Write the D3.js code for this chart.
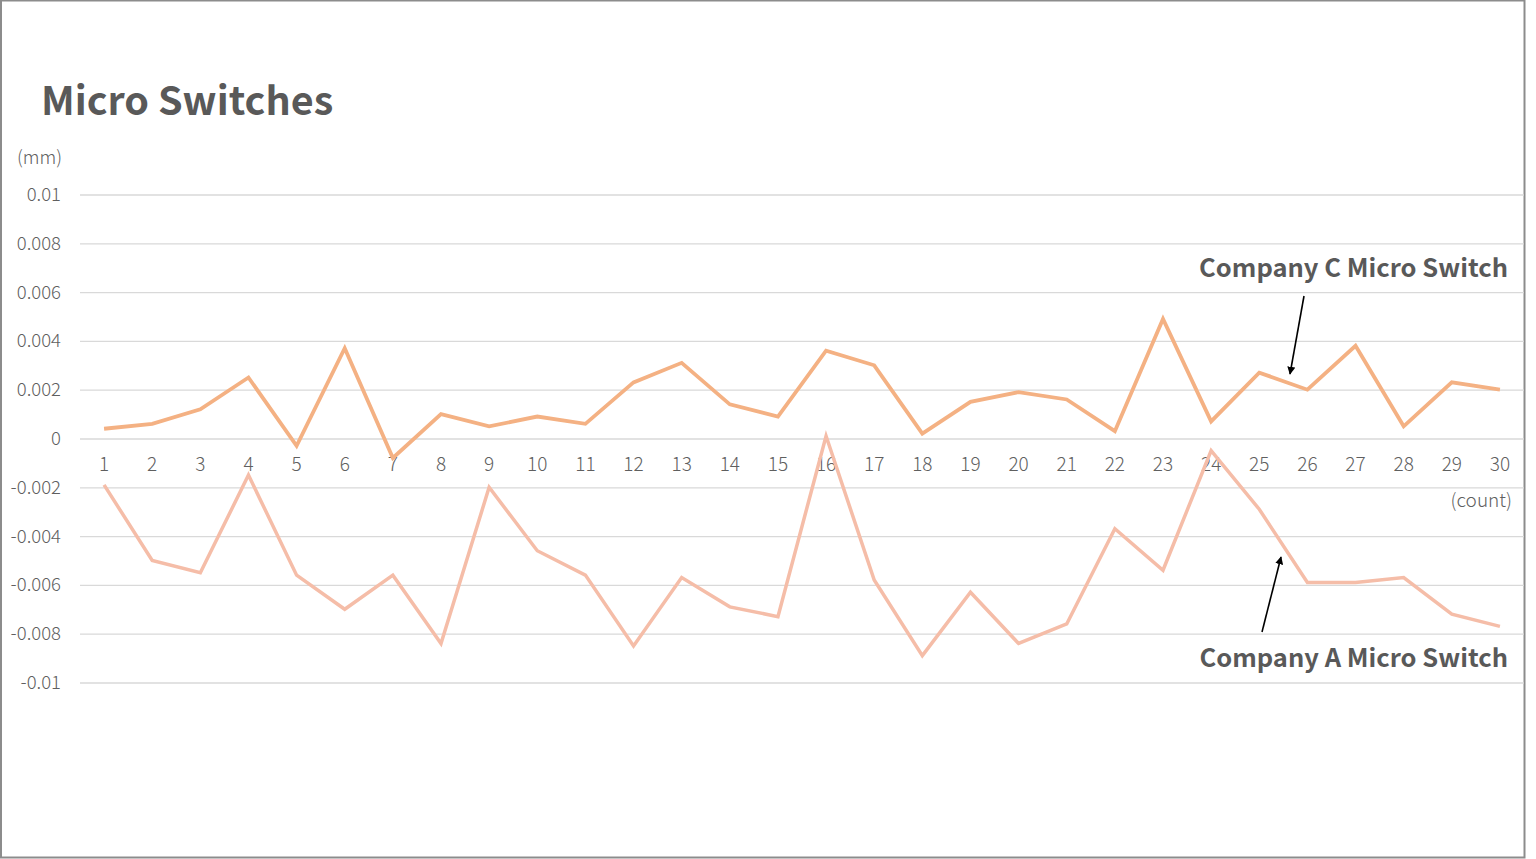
<!DOCTYPE html>
<html>
<head>
<meta charset="utf-8">
<script src="https://cdn.jsdelivr.net/npm/d3@7/dist/d3.min.js"></script>
<style>
html,body{margin:0;padding:0;background:#fff;}
svg{display:block;}
text{font-family:"Noto Sans CJK JP","Noto Sans",sans-serif;}
</style>
</head>
<body>
<svg id="chart" width="1536" height="859"></svg>
<script>
const categories = d3.range(1, 31).map(String);
const companyC = [0.0004,0.0006,0.0012,0.0025,-0.0003,0.0037,-0.0008,0.001,0.0005,0.0009,
  0.0006,0.0023,0.0031,0.0014,0.0009,0.0036,0.003,0.0002,0.0015,0.0019,
  0.0016,0.0003,0.0049,0.0007,0.0027,0.002,0.0038,0.0005,0.0023,0.002];
const companyA = [-0.0019,-0.005,-0.0055,-0.0015,-0.0056,-0.007,-0.0056,-0.0084,-0.002,-0.0046,
  -0.0056,-0.0085,-0.0057,-0.0069,-0.0073,0.0001,-0.0058,-0.0089,-0.0063,-0.0084,
  -0.0076,-0.0037,-0.0054,-0.0005,-0.0029,-0.0059,-0.0059,-0.0057,-0.0072,-0.0077];
const yTicks = [0.01,0.008,0.006,0.004,0.002,0,-0.002,-0.004,-0.006,-0.008,-0.01];
const yTickLabels = ["0.01","0.008","0.006","0.004","0.002","0","-0.002","-0.004","-0.006","-0.008","-0.01"];
const title = "Micro Switches";
const yUnit = "(mm)";
const xUnit = "(count)";
const labelC = "Company C Micro Switch";
const labelA = "Company A Micro Switch";

const svg = d3.select("#chart");
const plotL = 80, plotR = 1524, plotT = 194.5, plotB = 682.5;
const FONT = "'Noto Sans CJK JP','Noto Sans',sans-serif";

const x = d3.scaleBand().domain(categories).range([plotL, plotR]);
const y = d3.scaleLinear().domain([-0.01, 0.01]).range([plotB, plotT]);
const cx = d => x(d) + x.bandwidth() / 2;

// border
svg.append("rect").attr("x", 1).attr("y", 0.5).attr("width", 1523.5).attr("height", 857)
  .attr("fill", "#fff").attr("stroke", "#8c8c8c").attr("stroke-width", 2);

svg.append("defs").append("marker").attr("id", "arr")
  .attr("viewBox", "0 0 10 10").attr("refX", 9).attr("refY", 5)
  .attr("markerWidth", 5).attr("markerHeight", 5).attr("orient", "auto")
  .append("path").attr("d", "M0,0 L10,5 L0,10 z").attr("fill", "#000");

// title
svg.append("text").attr("x", 41).attr("y", 115).text(title)
  .attr("font-size", 39.5).attr("font-weight", 700).attr("fill", "#595959");

// y axis (gridlines + labels)
const yAxis = d3.axisLeft(y).tickValues(yTicks)
  .tickFormat((d, i) => yTickLabels[i]).tickSize(-(plotR - plotL)).tickPadding(19);
const gy = svg.append("g").attr("transform", `translate(${plotL},0)`).call(yAxis);
gy.select(".domain").remove();
gy.selectAll(".tick line").attr("stroke", "#d9d9d9").attr("stroke-width", 1.3);
gy.selectAll(".tick text").attr("font-size", 18.5).attr("font-weight", 300).attr("fill", "#5f5f5f")
  .attr("font-family", FONT);

// x axis labels below zero line
const xAxis = d3.axisBottom(x).tickSize(0).tickPadding(19);
const gx = svg.append("g").attr("transform", `translate(0,${y(0)})`).call(xAxis);
gx.select(".domain").remove();
gx.selectAll(".tick text").attr("font-size", 19).attr("font-weight", 300).attr("fill", "#5f5f5f")
  .attr("font-family", FONT);

svg.append("text").attr("x", 62).attr("y", 164).attr("text-anchor", "end").text(yUnit)
  .attr("font-size", 18.5).attr("font-weight", 300).attr("fill", "#5f5f5f");
svg.append("text").attr("x", 1512).attr("y", 507).attr("text-anchor", "end").text(xUnit)
  .attr("font-size", 19).attr("font-weight", 300).attr("fill", "#5f5f5f");

const line = d3.line().x((d, i) => cx(categories[i])).y(d => y(d));
svg.append("path").datum(companyA).attr("d", line).attr("fill", "none")
  .attr("stroke", "#F5BDA8").attr("stroke-width", 3.5).attr("stroke-linejoin", "miter");
svg.append("path").datum(companyC).attr("d", line).attr("fill", "none")
  .attr("stroke", "#F4B183").attr("stroke-width", 3.8).attr("stroke-linejoin", "miter");

// annotations
svg.append("text").attr("x", 1508).attr("y", 277).attr("text-anchor", "end").text(labelC)
  .attr("font-size", 25.5).attr("font-weight", 700).attr("fill", "#595959");
svg.append("text").attr("x", 1508).attr("y", 667).attr("text-anchor", "end").text(labelA)
  .attr("font-size", 25.5).attr("font-weight", 700).attr("fill", "#595959");

svg.append("line").attr("x1", 1304).attr("y1", 296).attr("x2", 1290).attr("y2", 374)
  .attr("stroke", "#000").attr("stroke-width", 1.6).attr("marker-end", "url(#arr)");
svg.append("line").attr("x1", 1262).attr("y1", 632).attr("x2", 1281).attr("y2", 557)
  .attr("stroke", "#000").attr("stroke-width", 1.6).attr("marker-end", "url(#arr)");
</script>
</body>
</html>
